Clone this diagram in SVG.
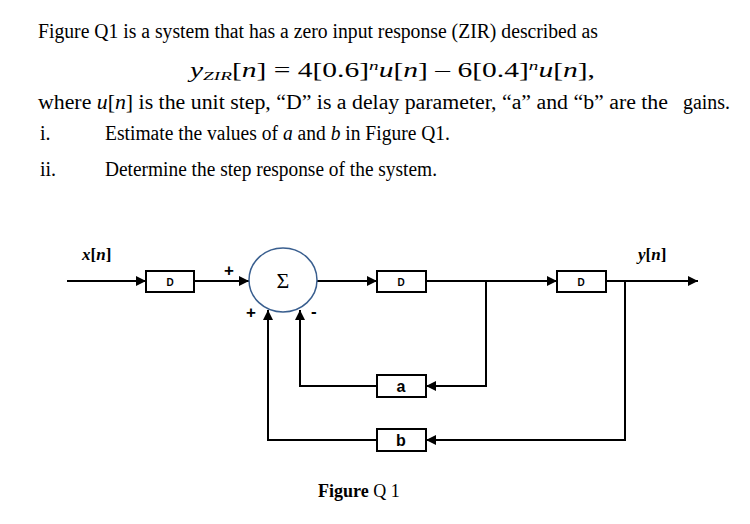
<svg xmlns="http://www.w3.org/2000/svg" width="750" height="524" viewBox="0 0 750 524">
<defs>
<marker id="ah" viewBox="0 0 10 10" refX="10" refY="5" markerWidth="10" markerHeight="10" markerUnits="userSpaceOnUse" orient="auto"><path d="M0,0 L10,5 L0,10 z" fill="#000"/></marker>
</defs>
<style>
.t{font-family:"Liberation Serif",serif;font-size:20px;fill:#000}
.box{fill:#fff;stroke:#000;stroke-width:2}
.bl{font-family:"Liberation Sans",Arial,sans-serif;font-weight:bold;fill:#000;text-anchor:middle}
.w{fill:none;stroke:#000;stroke-width:2}
</style>
<rect width="750" height="524" fill="#fff"/>
<text class="t" x="38" y="38" textLength="560" lengthAdjust="spacingAndGlyphs">Figure Q1 is a system that has a zero input response (ZIR) described as</text>
<text class="t" x="190" y="77" textLength="405" lengthAdjust="spacingAndGlyphs"><tspan font-style="italic">y</tspan><tspan font-style="italic" font-size="13" dy="3">ZIR</tspan><tspan dy="-3">[</tspan><tspan font-style="italic">n</tspan>] = 4[0.6]<tspan font-style="italic" font-size="13" dy="-7">n</tspan><tspan font-style="italic" dy="7">u</tspan>[<tspan font-style="italic">n</tspan>] – 6[0.4]<tspan font-style="italic" font-size="13" dy="-7">n</tspan><tspan font-style="italic" dy="7">u</tspan>[<tspan font-style="italic">n</tspan>],</text>
<text class="t" x="38" y="109" textLength="630" lengthAdjust="spacingAndGlyphs">where <tspan font-style="italic">u</tspan>[<tspan font-style="italic">n</tspan>] is the unit step, “D” is a delay parameter, “a” and “b” are the</text>
<text class="t" x="683" y="109" textLength="47" lengthAdjust="spacingAndGlyphs">gains.</text>
<text class="t" x="40" y="140">i.</text>
<text class="t" x="105" y="140" textLength="345" lengthAdjust="spacingAndGlyphs">Estimate the values of <tspan font-style="italic">a</tspan> and <tspan font-style="italic">b</tspan> in Figure Q1.</text>
<text class="t" x="40" y="176">ii.</text>
<text class="t" x="105" y="176" textLength="332" lengthAdjust="spacingAndGlyphs">Determine the step response of the system.</text>

<g id="connectors">
<line class="w" x1="67" y1="281" x2="146" y2="281" marker-end="url(#ah)"/>
<line class="w" x1="194" y1="281" x2="249" y2="281" marker-end="url(#ah)"/>
<line class="w" x1="317" y1="281" x2="377" y2="281" marker-end="url(#ah)"/>
<line class="w" x1="426" y1="281" x2="557" y2="281" marker-end="url(#ah)"/>
<line class="w" x1="606" y1="281" x2="698" y2="281" marker-end="url(#ah)"/>
<polyline class="w" points="486,281 486,386 426,386" marker-end="url(#ah)"/>
<polyline class="w" points="625,281 625,440 426,440" marker-end="url(#ah)"/>
<polyline class="w" points="377,386 300,386 300,310" marker-end="url(#ah)"/>
<polyline class="w" points="377,440 268,440 268,310" marker-end="url(#ah)"/>
</g>
<g id="sum">
<ellipse cx="283" cy="280" rx="34" ry="32" fill="#fff" stroke="#3a5f8f" stroke-width="1.5"/>
<text x="283" y="288" text-anchor="middle" font-family="Liberation Serif,serif" font-size="22">Σ</text>
</g>
<g id="d1"><rect class="box" x="146" y="271" width="48" height="21"/><text class="bl" x="170" y="286" font-size="10">D</text></g>
<g id="d2"><rect class="box" x="377" y="271" width="49" height="21"/><text class="bl" x="401" y="286" font-size="10">D</text></g>
<g id="d3"><rect class="box" x="557" y="271" width="49" height="21"/><text class="bl" x="581" y="286" font-size="10">D</text></g>
<g id="ga"><rect class="box" x="377" y="375" width="49" height="22"/><text class="bl" x="401" y="392" font-size="16">a</text></g>
<g id="gb"><rect class="box" x="377" y="429" width="49" height="22"/><text class="bl" x="401" y="446" font-size="16">b</text></g>
<g id="labels" font-family="Liberation Sans,sans-serif" font-size="17" font-weight="bold">
<text x="224" y="276">+</text>
<text x="246" y="318">+</text>
<text x="311" y="317">-</text>
</g>
<text x="82" y="260" font-family="Liberation Serif,serif" font-size="17" font-weight="bold" font-style="italic">x<tspan font-style="normal">[</tspan>n<tspan font-style="normal">]</tspan></text>
<text x="638" y="260" font-family="Liberation Serif,serif" font-size="17" font-weight="bold" font-style="italic">y<tspan font-style="normal">[</tspan>n<tspan font-style="normal">]</tspan></text>
<text x="318" y="497" font-family="Liberation Serif,serif" font-size="18"><tspan font-weight="bold">Figure</tspan> Q 1</text>
</svg>
